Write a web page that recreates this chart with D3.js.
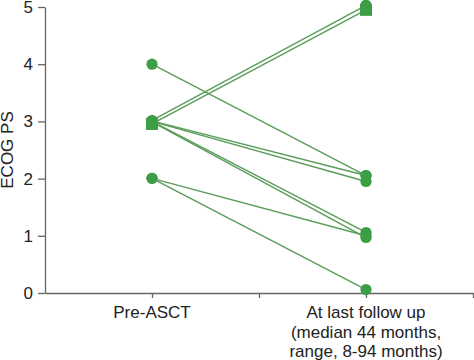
<!DOCTYPE html>
<html>
<head>
<meta charset="utf-8">
<script src="https://cdn.jsdelivr.net/npm/d3@7/dist/d3.min.js"></script>
<style>
  html, body { margin: 0; padding: 0; background: #fff; }
  svg { display: block; font-family: "Liberation Sans", Arial, Helvetica, sans-serif; }
</style>
</head>
<body>
<svg id="chart" width="474" height="360"></svg>
<script>
// Time points (x positions 1 and 3 on a 0..4 axis)
const timepoints = ["Pre-ASCT", "At last follow up"];
const timeLabelLines = [
  ["Pre-ASCT"],
  ["At last follow up", "(median 44 months,", "range, 8-94 months)"]
];
// ECOG PS per patient (small offsets as drawn in the figure)
const preValues  = [4.0, 3.016, 2.955, 3.01, 3.0, 3.0, 2.99, 2.005, 2.005];
const postValues = [2.054, 5.03, 4.95, 2.054, 1.949, 1.058, 0.97, 1.0, 0.06];
const markerShapes = ["circle", "circle", "square", "circle", "circle", "circle", "circle", "circle", "circle"];
const yTicks = [0, 1, 2, 3, 4, 5];
const xTicks = [1, 2, 3, 4];
const xPositions = [1, 3];

const svg = d3.select("#chart");
const x = d3.scaleLinear().domain([0, 4]).range([45, 473]);
const y = d3.scaleLinear().domain([0, 5]).range([293, 7]);

const lineColor = "#5a9c5a";
const markerColor = "#3e9e46";
const axisColor = "#666";

// Lines
const patients = preValues.map((v, i) => ({ pre: v, post: postValues[i], shape: markerShapes[i] }));
svg.append("g").selectAll("line").data(patients).join("line")
  .attr("x1", x(xPositions[0])).attr("y1", d => y(d.pre))
  .attr("x2", x(xPositions[1])).attr("y2", d => y(d.post))
  .attr("stroke", lineColor).attr("stroke-width", 1.4);

// Axes
const yAxis = d3.axisLeft(y).tickValues(yTicks).tickSize(7).tickPadding(5).tickSizeOuter(0).tickFormat(d3.format("d"));
const gy = svg.append("g").attr("transform", `translate(${x(0)},0)`).call(yAxis);
const xAxis = d3.axisBottom(x).tickValues(xTicks).tickSize(5).tickSizeOuter(0).tickFormat("");
const gx = svg.append("g").attr("transform", `translate(0,${y(0)})`).call(xAxis);
[gx, gy].forEach(g => {
  g.selectAll("path, line").attr("stroke", axisColor).attr("stroke-width", 1.3);
  g.selectAll("text").attr("fill", "#222").style("font-size", "17px").style("font-family", "'Liberation Sans', Arial, sans-serif");
});

// X category labels
timeLabelLines.forEach((lines, i) => {
  const t = svg.append("text")
    .attr("x", x(xPositions[i])).attr("y", 318)
    .attr("text-anchor", "middle").attr("fill", "#222")
    .style("font-size", "17px");
  lines.forEach((ln, j) => {
    t.append("tspan").attr("x", x(xPositions[i])).attr("dy", j === 0 ? 0 : 19.5).text(ln);
  });
});

// Y title
svg.append("text")
  .attr("transform", `translate(13,${(y(0) + y(5)) / 2}) rotate(-90)`)
  .attr("text-anchor", "middle").attr("fill", "#222")
  .style("font-size", "17px").text("ECOG PS");

// Markers
const marks = [];
patients.forEach(d => {
  marks.push({ t: 0, v: d.pre, shape: d.shape });
  marks.push({ t: 1, v: d.post, shape: d.shape });
});
const gm = svg.append("g");
marks.filter(m => m.shape === "circle").forEach(m => {
  gm.append("circle").attr("cx", x(xPositions[m.t])).attr("cy", y(m.v)).attr("r", 5.6).attr("fill", markerColor);
});
marks.filter(m => m.shape === "square").forEach(m => {
  gm.append("rect").attr("x", x(xPositions[m.t]) - 6).attr("y", y(m.v) - 6).attr("width", 12).attr("height", 12).attr("fill", markerColor);
});
</script>
</body>
</html>
